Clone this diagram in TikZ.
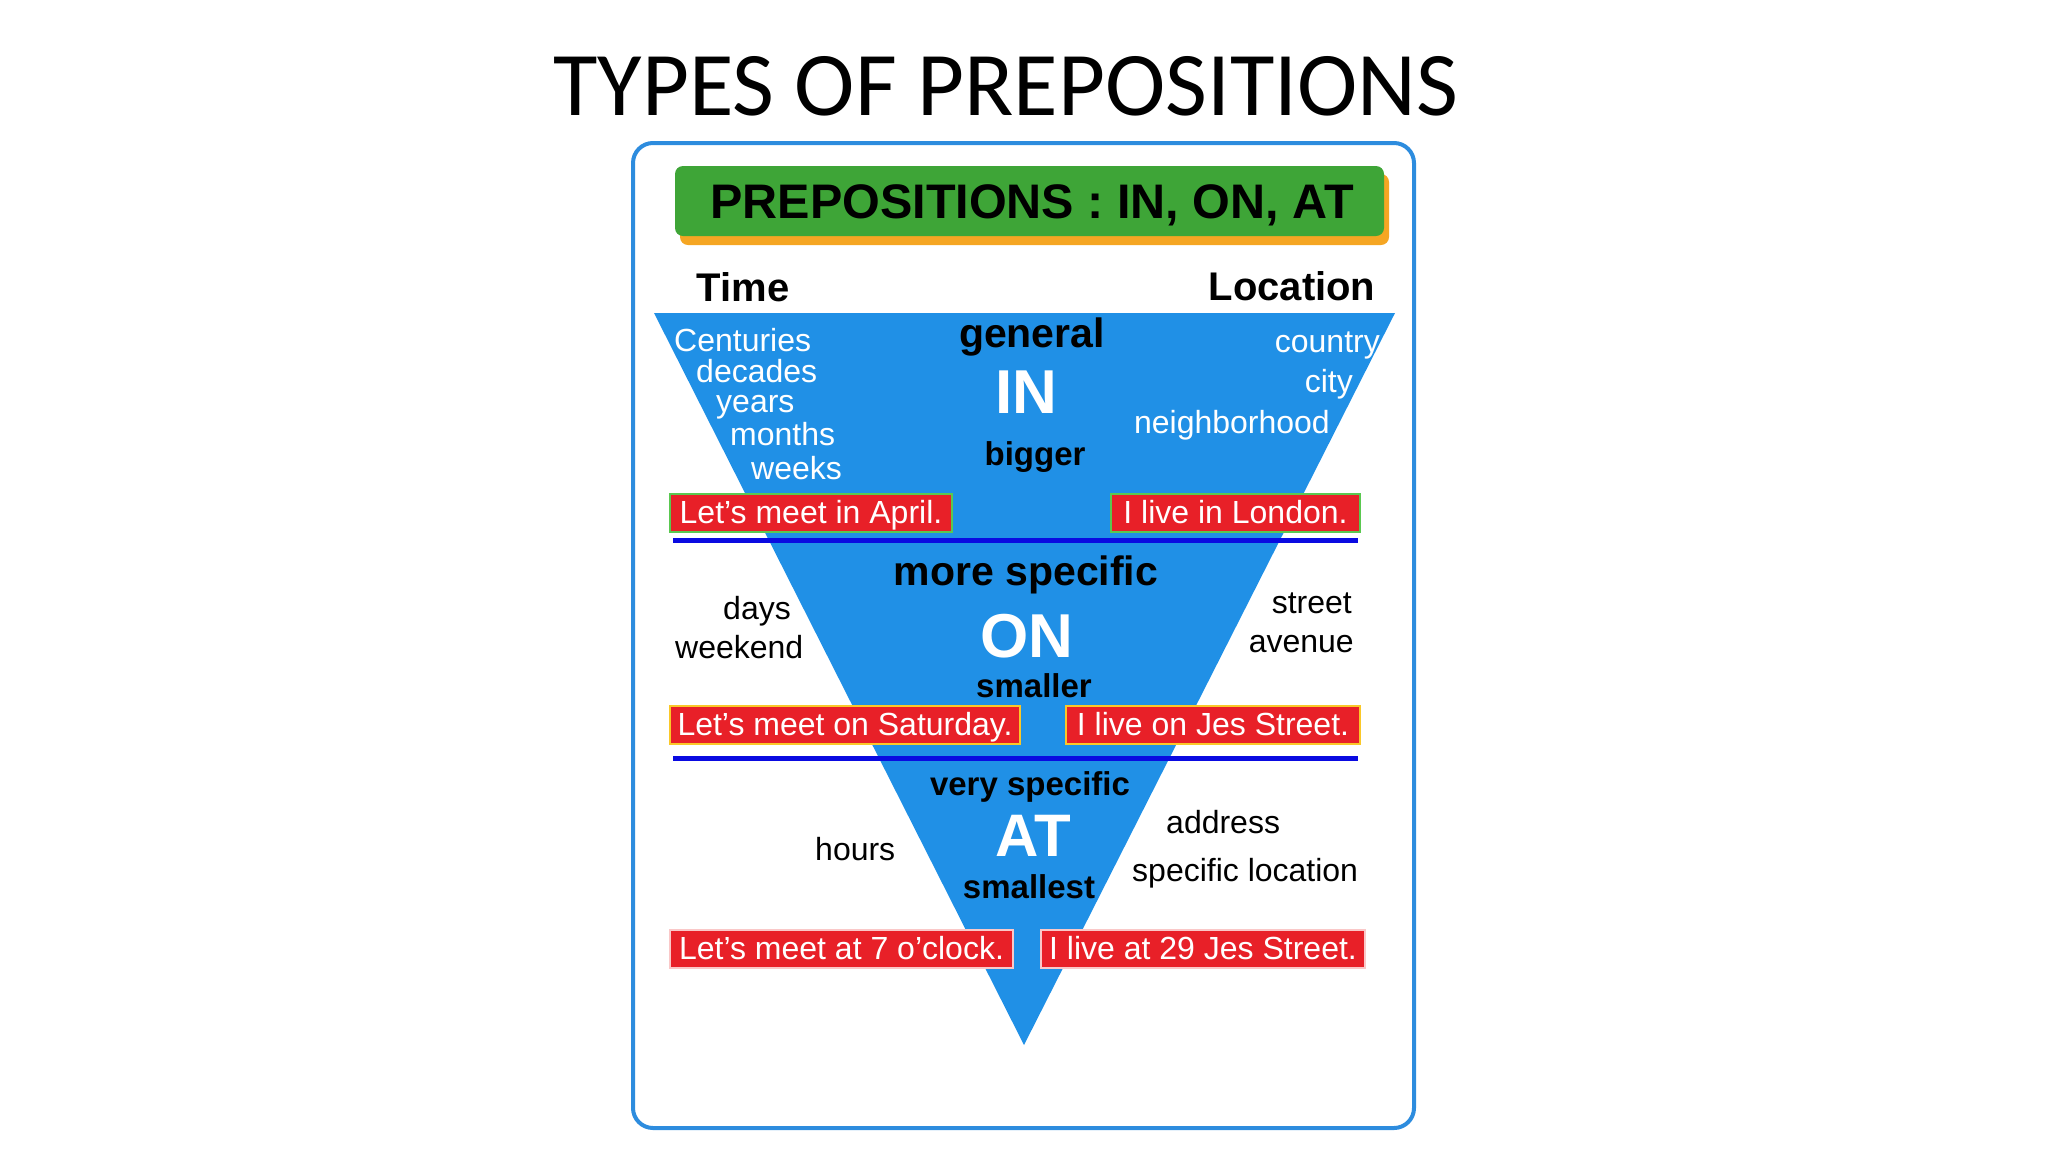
\documentclass[tikz,border=0pt]{standalone}
\usepackage{fontspec}
\setmainfont{Liberation Sans}
\newfontfamily\titlefont{Carlito}
\definecolor{triblue}{RGB}{32,144,230}
\definecolor{boxblue}{RGB}{45,140,222}
\definecolor{bangreen}{RGB}{62,165,55}
\definecolor{banorange}{RGB}{245,166,35}
\definecolor{redfill}{RGB}{232,32,40}
\definecolor{lineblue}{RGB}{10,10,225}
\definecolor{bordgreen}{RGB}{90,200,80}
\definecolor{bordyellow}{RGB}{250,200,40}
\definecolor{bordpink}{RGB}{250,200,200}
\newcommand\fsz[1]{\fontsize{#1}{#1}\selectfont}
\begin{document}
\begin{tikzpicture}[x=1pt,y=-1pt,
  txt/.style={inner sep=0pt, font=\fsz{32}},
  wt/.style={txt, text=white},
  bk/.style={txt, text=black},
  bl/.style={inner sep=0pt, text=black, font=\bfseries\fsz{#1}},
  big/.style={inner sep=0pt, text=white, font=\bfseries\fsz{#1}},
  redbox/.style={fill=redfill, draw=#1, line width=2pt, text=white, inner sep=0pt,
    minimum height=38, text height=25, text depth=5, font=\fsz{32}},
  bline/.style={draw=lineblue, line width=5pt}
]
\useasboundingbox (0,0) rectangle (2048,1152);
% title
\node[font=\titlefont\fsz{91}, inner sep=0pt] (title) at (1006,86) {TYPES OF PREPOSITIONS};
% outer frame
\draw[boxblue, line width=4pt, rounded corners=20pt] (633,143) rectangle (1414,1128);
% banner
\fill[banorange, rounded corners=8pt] (680,174) rectangle (1389,245);
\node[fill=bangreen, rounded corners=8pt, minimum width=709, minimum height=70, inner sep=0pt] (banner) at (1029.5,201) {};
\node[bl=48.5, anchor=base] (bantext) at (1032,218) {PREPOSITIONS : IN, ON, AT};
% column heads
\node[bl=40] (time) at (743,287) {Time};
\node[bl=40] (loc) at (1292,286) {Location};
% triangle
\fill[triblue] (654,313) coordinate (tl) -- (1395,313) coordinate (tr) -- (1024,1045) coordinate (apex) -- cycle;
% IN section
\node[wt, anchor=mid west] (c1) at (674,349) {Centuries};
\node[wt, anchor=mid west] (c2) at (696,380) {decades};
\node[wt, anchor=mid west] (c3) at (716,410) {years};
\node[wt, anchor=mid west] (c4) at (730,443) {months};
\node[wt, anchor=mid west] (c5) at (751,477) {weeks};
\node[bl=41, anchor=mid] (general) at (1032,345) {general};
\node[big=62] (in) at (1026,392) {IN};
\node[bl=33, anchor=mid] (bigger) at (1035,463) {bigger};
\node[wt, anchor=mid east] (r1) at (1380,350) {country};
\node[wt, anchor=mid east] (r2) at (1353,390) {city};
\node[wt, anchor=mid east] (r3) at (1330,431) {neighborhood};
% ON section
\node[bl=41, anchor=mid] (more) at (1026,583) {more specific};
\node[big=62] (on) at (1027,636) {ON};
\node[bl=33, anchor=mid] (smaller) at (1034,695) {smaller};
\node[bk, anchor=mid east] (days) at (791,617) {days};
\node[bk, anchor=mid west] (weekend) at (675,656) {weekend};
\node[bk, anchor=mid east] (street) at (1352,611) {street};
\node[bk, anchor=mid east] (avenue) at (1354,650) {avenue};
% AT section
\node[bl=33, anchor=mid] (very) at (1030,793) {very specific};
\node[big=60] (at) at (1033,836) {AT};
\node[bl=33, anchor=mid] (smallest) at (1029,896) {smallest};
\node[bk, anchor=mid west] (hours) at (815,858) {hours};
\node[bk, anchor=mid west] (address) at (1166,831) {address};
\node[bk, anchor=mid west] (specloc) at (1132,879) {specific location};
% separator lines
\coordinate (s1a) at (673,540); \coordinate (s1b) at (1358,540);
\coordinate (s2a) at (673,758); \coordinate (s2b) at (1358,758);
\draw[bline] (s1a) -- (s1b);
\draw[bline] (s2a) -- (s2b);
% example boxes
\node[redbox=bordgreen, minimum width=282] (e1) at (811,513) {Let’s meet in April.};
\node[redbox=bordgreen, minimum width=249] (e2) at (1235.5,513) {I live in London.};
\node[redbox=bordyellow, minimum width=350] (e3) at (845,725) {Let’s meet on Saturday.};
\node[redbox=bordyellow, minimum width=294] (e4) at (1213,725) {I live on Jes Street.};
\node[redbox=bordpink, minimum width=343] (e5) at (841.5,949) {Let’s meet at 7 o’clock.};
\node[redbox=bordpink, minimum width=324] (e6) at (1203,949) {I live at 29 Jes Street.};
\end{tikzpicture}
\end{document}
